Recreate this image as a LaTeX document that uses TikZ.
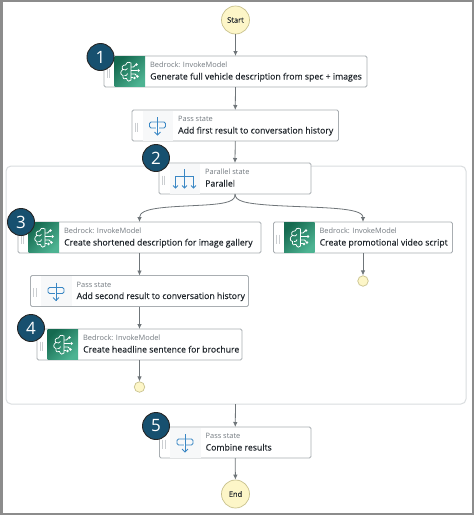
\documentclass[tikz,border=0pt]{standalone}
\usepackage{fontspec}
\setmainfont{Open Sans}
\newfontfamily\ttlfont[FakeBold=0.2]{Open Sans}
\usetikzlibrary{arrows.meta,calc}
\definecolor{bdr}{HTML}{A9AEB2}
\definecolor{frm}{HTML}{8C8C8C}
\definecolor{grp}{HTML}{DADDDF}
\definecolor{wire}{HTML}{6F7579}
\definecolor{capt}{HTML}{737A80}
\definecolor{ttl}{HTML}{20262C}
\definecolor{badge}{HTML}{17506F}
\definecolor{cream}{HTML}{FDF6C8}
\definecolor{creamb}{HTML}{C9C28E}
\definecolor{grA}{HTML}{4DB392}
\definecolor{grB}{HTML}{156A50}
\definecolor{icobg}{HTML}{F7F8F9}
\definecolor{blu}{HTML}{3A87C4}
\tikzset{
  x=1pt,y=-1pt,
  wireline/.style={draw=wire,line width=0.8pt,-{Latex[length=5pt,width=4.5pt]}},
  statebox/.style={draw=bdr,line width=0.9pt,rounded corners=1.5pt,fill=white},
  endpt/.style={circle,draw=creamb,fill=cream,line width=0.7pt,inner sep=0pt,minimum size=#1,font=\ttlfont\fontsize{7.5}{9}\selectfont\color{ttl}},
  numbadge/.style={circle,fill=badge,draw=black!85,line width=0.9pt,inner sep=0pt,minimum size=27pt,text=white,font=\fontsize{17}{19}\selectfont},
  captext/.style={anchor=base west,inner sep=0pt,text=capt,font=\fontsize{7.4}{9}\selectfont},
  ttltext/.style={anchor=base west,inner sep=0pt,text=ttl,font=\ttlfont\fontsize{8.7}{11}\selectfont},
}
% brain icon, centred at #1
\newcommand{\brainicon}[1]{%
 \begin{scope}[shift={(#1)},white,line width=0.75pt]
  \draw (1.5,-9) .. controls (-1,-10.5) and (-4,-9.5) .. (-4,-7)
        .. controls (-7,-7.5) and (-8.5,-4) .. (-6.5,-2.5)
        .. controls (-9.5,-1) and (-9.5,3) .. (-6.5,3.5)
        .. controls (-7.5,6.5) and (-4.5,8) .. (-3,6.5)
        .. controls (-2.5,9.5) and (1,10) .. (1.5,8) -- cycle;
  \draw (-6.5,-2.5) .. controls (-4.5,-1.5) and (-3,-2) .. (-2,-3.5);
  \draw (-5,3.5) .. controls (-3.5,4) and (-2,3) .. (-2,1.5);
  \draw (1.5,-5) -- (4,-5) -- (6,-7);
  \draw (1.5,-1.5) -- (7.5,-1.5);
  \draw (1.5,2) -- (5.5,2) -- (7,3.5);
  \draw (1.5,5.5) -- (3.5,5.5);
  \fill (7,-7.5) circle (1.4) (9,-1.5) circle (1.4) (8,4.5) circle (1.4) (5,6) circle (1.4);
 \end{scope}}
% pass icon
\newcommand{\passicon}[1]{%
 \begin{scope}[shift={(#1)},blu,line width=0.8pt]
  \draw (0,-9) -- (0,-4);
  \draw[rounded corners=1.5pt] (-8,-4) rectangle (8,2);
  \draw[white,line width=1.4pt] (-1.2,2) -- (1.2,2);
  \draw (0,-4) -- (0,9);
  \draw (-3,6) -- (0,9) -- (3,6);
 \end{scope}}
% parallel icon
\newcommand{\paricon}[1]{%
 \begin{scope}[shift={(#1)},blu,line width=0.8pt]
  \draw (0,-10) -- (0,9);
  \draw (-9,-3) -- (9,-3);
  \draw (-9,-3) -- (-9,9) (9,-3) -- (9,9);
  \foreach \q in {-9,0,9}{\draw (\q-2.5,6.5) -- (\q,9) -- (\q+2.5,6.5);}
 \end{scope}}
% #1 name, #2 left, #3 top, #4 right, #5 caption, #6 title, #7 kind
\newcommand{\statenode}[7]{%
 \path[statebox] (#2,#3) rectangle (#4,#3+31);
 \coordinate (#1) at ($(#2,#3)!0.5!(#4,#3+31)$);
 \coordinate (#1n) at (#1 |- 0,#3);
 \coordinate (#1s) at (#1 |- 0,#3+31);
 \draw[bdr!60,line width=1pt] (#2+3.2,#3+12.5) -- (#2+3.2,#3+21.5) (#2+5.6,#3+12.5) -- (#2+5.6,#3+21.5);
 \ifnum#7=0
  \shade[left color=grB,right color=grA,shading angle=45] (#2+10.5,#3+0.5) rectangle (#2+41,#3+30.5);
  \brainicon{#2+25.5,#3+16}
 \else
  \fill[icobg] (#2+10.5,#3+0.5) rectangle (#2+41,#3+30.5);
  \ifnum#7=1 \passicon{#2+25.5,#3+16}\else\paricon{#2+25.5,#3+16}\fi
 \fi
 \node[captext] (#1c) at (#2+46,#3+11.5) {#5};
 \node[ttltext] (#1t) at (#2+46,#3+23.5) {#6};
}
\begin{document}
\begin{tikzpicture}
\useasboundingbox (0,0) rectangle (474,515);
\fill[white] (0,0) rectangle (474,515);
\fill[frm] (0,0) rectangle (474,2);
\fill[frm] (0,513) rectangle (474,515);
\fill[frm] (0,0) rectangle (2.5,515);
\fill[frm] (471.7,0) rectangle (474,515);
\draw[grp,line width=1pt,rounded corners=5pt,fill=white] (6,166) rectangle (466,404);

\statenode{gen}{104}{56}{367}{Bedrock: InvokeModel}{Generate full vehicle description from spec + images}{0}
\statenode{first}{132}{110}{338.5}{Pass state}{Add first result to conversation history}{1}
\statenode{par}{159}{163}{311}{Parallel state}{Parallel}{2}
\statenode{short}{18}{222}{261}{Bedrock: InvokeModel}{Create shortened description for image gallery}{0}
\statenode{second}{30.5}{275.5}{248.5}{Pass state}{Add second result to conversation history}{1}
\statenode{head}{37}{329}{242}{Bedrock: InvokeModel}{Create headline sentence for brochure}{0}
\statenode{promo}{273.5}{222}{452.5}{Bedrock: InvokeModel}{Create promotional video script}{0}
\statenode{comb}{159.5}{427}{311}{Pass state}{Combine results}{1}

\node[endpt=28pt] (start) at (235.5,20) {Start};
\node[endpt=28pt] (end) at (235.5,494) {End};
\node[endpt=10.5pt] (doneA) at (139.5,387) {};
\node[endpt=10.5pt] (doneB) at (363,281) {};

\draw[wireline] (start) -- (genn);
\draw[wireline] (gens) -- (firstn);
\draw[wireline] (firsts) -- (parn);
\draw[wireline] (pars) .. controls (235.5,201) and (228,203.5) .. (205,205) .. controls (170,207) and (139.5,207) .. (139.5,222);
\draw[wireline] (pars) .. controls (235.5,201) and (243,203.5) .. (275,205.5) .. controls (320,208) and (363,207) .. (363,222);
\draw[wireline] (shorts) -- (secondn);
\draw[wireline] (seconds) -- (headn);
\draw[wireline] (heads) -- (doneA);
\draw[wireline] (promos) -- (doneB);
\draw[wireline] (235.5,404) -- (combn);
\draw[wireline] (combs) -- (end);

\node[numbadge] (b1) at (100.5,57) {1};
\node[numbadge] (b2) at (156,158) {2};
\node[numbadge] (b3) at (21,222) {3};
\node[numbadge] (b4) at (31,328) {4};
\node[numbadge] (b5) at (156,426) {5};
\end{tikzpicture}
\end{document}
